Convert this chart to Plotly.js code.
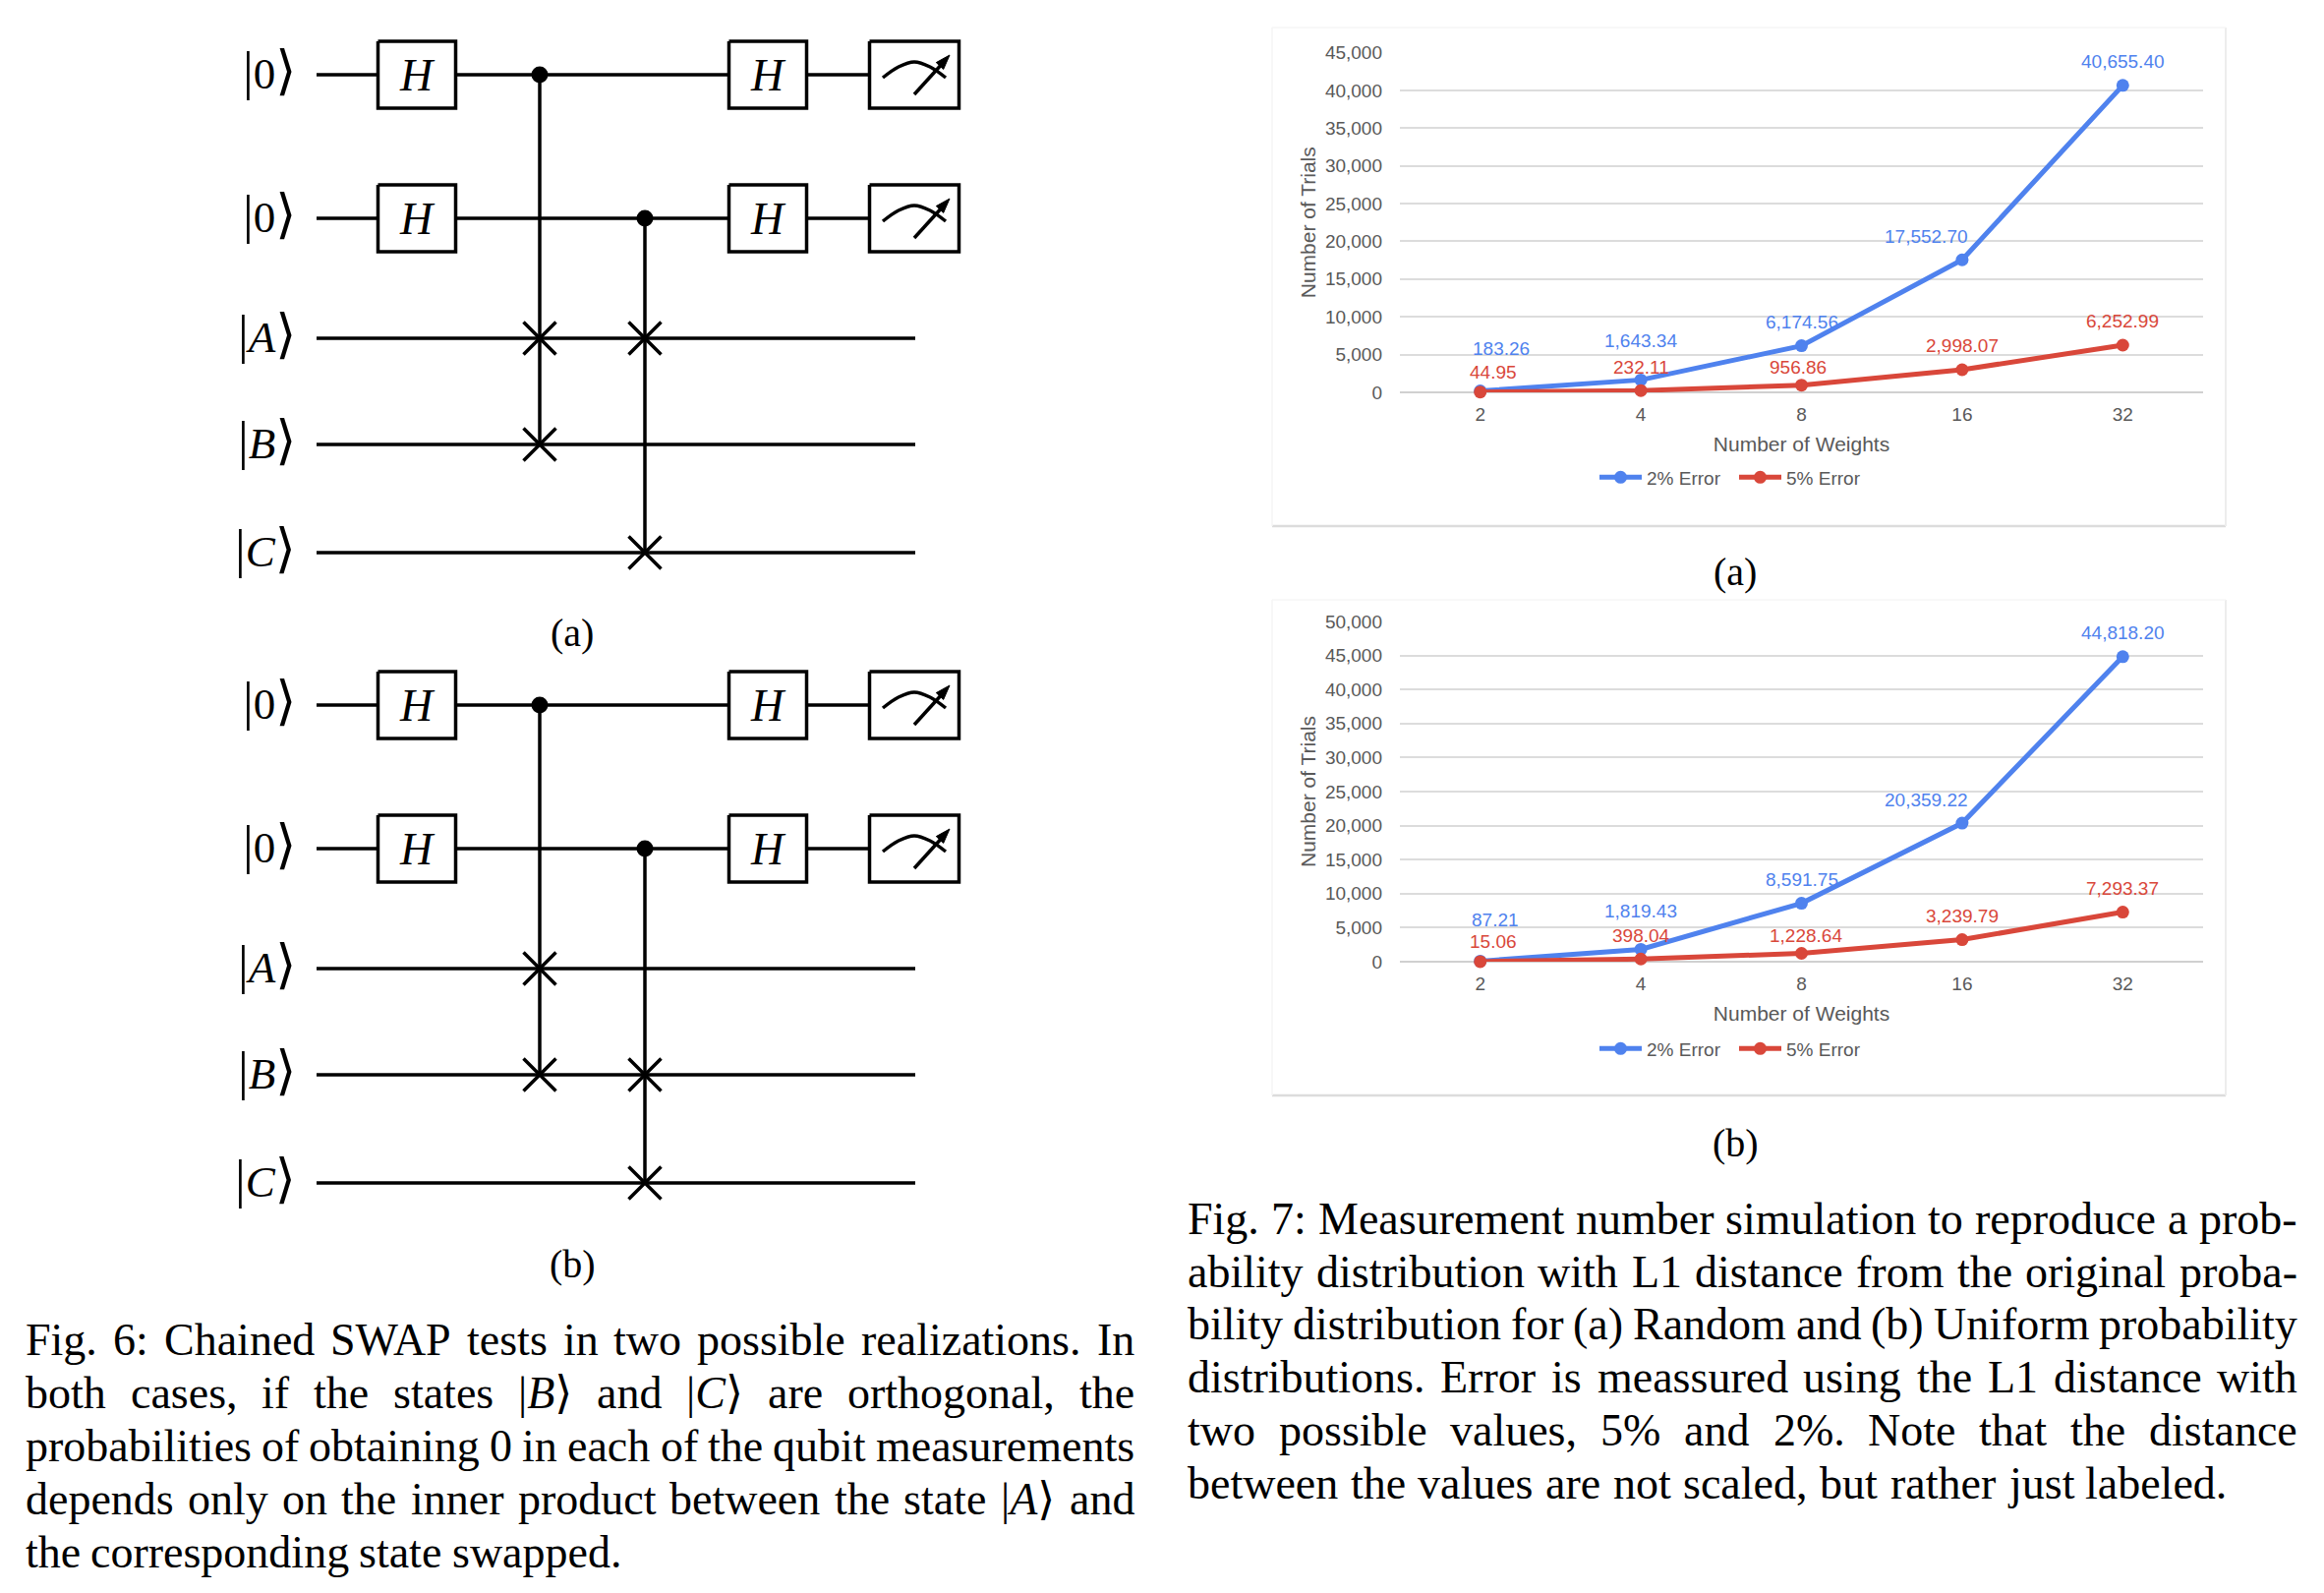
<!DOCTYPE html>
<html><head><meta charset="utf-8">
<script src="https://cdn.plot.ly/plotly-3.0.1.min.js"></script>
<style>html,body{margin:0;padding:0;background:#fff}#c{width:2364px;height:1620px}</style>
</head><body><div id="c"></div>
<script>
// ---- chart data ----
const weights = ['2','4','8','16','32'];
const seriesNames = ['2% Error','5% Error'];
const randomTwo = [183.26,1643.34,6174.56,17552.70,40655.40];
const randomFive = [44.95,232.11,956.86,2998.07,6252.99];
const uniformTwo = [87.21,1819.43,8591.75,20359.22,44818.20];
const uniformFive = [15.06,398.04,1228.64,3239.79,7293.37];
// ---- circuit data (axis units) ----
const wireNames = ['0','0','A','B','C'];
const wireRows = [76,222,344,452,562];
const wireStart = 322, wireEndMeter = 885, wireEndOpen = 931;
const gateColumns = [424,781];
const meterColumn = 930;
const swapColumns = [549,656];
const controlRows = [0,1];
const swapTargetsA = [[2,3],[2,4]];
const swapTargetsB = [[2,3],[3,4]];
// ---- captions ----
const captionSix = [
 'Fig. 6: Chained SWAP tests in two possible realizations. In',
 'both cases, if the states |B⟩ and |C⟩ are orthogonal, the',
 'probabilities of obtaining 0 in each of the qubit measurements',
 'depends only on the inner product between the state |A⟩ and',
 'the corresponding state swapped.'];
const captionSeven = [
 'Fig. 7: Measurement number simulation to reproduce a prob-',
 'ability distribution with L1 distance from the original proba-',
 'bility distribution for (a) Random and (b) Uniform probability',
 'distributions. Error is meassured using the L1 distance with',
 'two possible values, 5% and 2%. Note that the distance',
 'between the values are not scaled, but rather just labeled.'];

const W=2364,H=1620;
const px=x=>x/W, py=y=>1-y/H;
const BLUE='#4f82ee', RED='#d9473a', TXT='#595959', GRID='#dcdcdc';
const SERIF='"Liberation Serif","DejaVu Serif",serif';
const SANS='"Liberation Sans",Arial,sans-serif';
const CAP=46;
const traces=[], annotations=[], shapes=[];

// ---- line charts ----
function addChart(n,two,five,legendName,offTwo,offFive){
  const xa=n===1?'x':'x'+n, ya=n===1?'y':'y'+n;
  [[two,BLUE,0,offTwo],[five,RED,1,offFive]].forEach(([vals,col,i,off])=>{
    traces.push({type:'scatter',mode:'lines+markers',x:weights,y:vals,name:seriesNames[i],xaxis:xa,yaxis:ya,
      legend:legendName,cliponaxis:false,line:{color:col,width:5},marker:{color:col,size:13}});
    vals.forEach((v,k)=>annotations.push({xref:xa,yref:ya,x:k,y:v,showarrow:false,xanchor:'center',yanchor:'middle',
      text:v.toLocaleString('en-US',{minimumFractionDigits:2,maximumFractionDigits:2}),
      font:{family:SANS,size:19,color:col},xshift:off[k][0],yshift:off[k][1]}));
  });
}
addChart(1,randomTwo,randomFive,'legend',
  [[21,43],[0,40],[0,24],[-36,24],[0,24]],
  [[13,20],[0,24],[-4,18],[0,24],[0,24]]);
addChart(2,uniformTwo,uniformFive,'legend2',
  [[15,42],[0,39],[0,24],[-36,24],[0,24]],
  [[13,20],[0,24],[4,18],[0,24],[0,24]]);

// ---- circuits ----
function line(xs,ys,xa,ya,w){traces.push({type:'scatter',mode:'lines',x:xs,y:ys,xaxis:xa,yaxis:ya,showlegend:false,
  hoverinfo:'skip',cliponaxis:false,line:{color:'#000',width:w||3.5}});}
function addCircuit(xa,ya,targets){
  wireRows.forEach((r,i)=>{
    line([wireStart,i<2?wireEndMeter:wireEndOpen],[r,r],xa,ya);
    annotations.push({xref:xa,yref:ya,x:303,y:r,xanchor:'right',yanchor:'middle',yshift:4,showarrow:false,
      text:'<span style="font-size:54px">|</span>'+(i<2?wireNames[i]:'<i>'+wireNames[i]+'</i>')+'<span style="font-size:54px">⟩</span>',
      font:{family:SERIF,size:45,color:'#000'}});
  });
  swapColumns.forEach((c,j)=>{
    const rows=[controlRows[j],...targets[j]];
    line([c,c],[wireRows[rows[0]],wireRows[rows[rows.length-1]]],xa,ya);
    traces.push({type:'scatter',mode:'markers',x:[c],y:[wireRows[controlRows[j]]],xaxis:xa,yaxis:ya,showlegend:false,hoverinfo:'skip',
      marker:{symbol:'circle',size:17,color:'#000'}});
    traces.push({type:'scatter',mode:'markers',x:targets[j].map(()=>c),y:targets[j].map(t=>wireRows[t]),xaxis:xa,yaxis:ya,showlegend:false,hoverinfo:'skip',
      marker:{symbol:'x-thin',size:33,line:{color:'#000',width:3.5}}});
  });
  controlRows.forEach(rowIdx=>{
    const r=wireRows[rowIdx];
    gateColumns.forEach(g=>{
      traces.push({type:'scatter',mode:'lines',fill:'toself',fillcolor:'#fff',x:[g-39.5,g+39.5,g+39.5,g-39.5,g-39.5],y:[r-34,r-34,r+34,r+34,r-34],
        xaxis:xa,yaxis:ya,showlegend:false,hoverinfo:'skip',line:{color:'#000',width:3.5}});
      annotations.push({xref:xa,yref:ya,x:g,y:r,xanchor:'center',yanchor:'middle',showarrow:false,text:'<i>H</i>',font:{family:SERIF,size:46,color:'#000'}});
    });
    const m=meterColumn;
    traces.push({type:'scatter',mode:'lines',fill:'toself',fillcolor:'#fff',x:[m-45.5,m+45.5,m+45.5,m-45.5,m-45.5],y:[r-34,r-34,r+34,r+34,r-34],
      xaxis:xa,yaxis:ya,showlegend:false,hoverinfo:'skip',line:{color:'#000',width:3.5}});
    traces.push({type:'scatter',mode:'lines',x:[m-32,m-16,m,m+16,m+32],y:[r+3,r-8,r-13,r-8,r+3],xaxis:xa,yaxis:ya,showlegend:false,hoverinfo:'skip',
      line:{color:'#000',width:3.5,shape:'spline'}});
    line([m,m+30],[r+20,r-13],xa,ya,3.5);
    traces.push({type:'scatter',mode:'lines',fill:'toself',fillcolor:'#000',x:[m+36,m+29.7,m+22.3,m+36],y:[r-20,r-5.6,r-12.4,r-20],
      xaxis:xa,yaxis:ya,showlegend:false,hoverinfo:'skip',line:{color:'#000',width:1}});
  });
}
addCircuit('x3','y3',swapTargetsA);
addCircuit('x4','y4',swapTargetsB);

// ---- panels around the charts ----
[[1294,2264,28,535],[1294,2264,610,1114]].forEach(([l,r,t,b])=>{
  shapes.push({type:'line',xref:'paper',yref:'paper',x0:px(l),x1:px(r),y0:py(b),y1:py(b),line:{color:'#dcdcdc',width:2.5}});
  shapes.push({type:'line',xref:'paper',yref:'paper',x0:px(r),x1:px(r),y0:py(t),y1:py(b),line:{color:'#ededed',width:2}});
  shapes.push({type:'line',xref:'paper',yref:'paper',x0:px(l),x1:px(l),y0:py(t),y1:py(b),line:{color:'#f4f4f4',width:1.5}});
  shapes.push({type:'line',xref:'paper',yref:'paper',x0:px(l),x1:px(r),y0:py(t),y1:py(t),line:{color:'#f6f6f6',width:1.5}});
});

// ---- sub-captions ----
[['(a)',582,643],['(b)',582,1285],['(a)',1765,581],['(b)',1765,1162]].forEach(([t,x,y])=>
  annotations.push({xref:'paper',yref:'paper',x:px(x),y:py(y),xanchor:'center',yanchor:'middle',showarrow:false,text:t,font:{family:SERIF,size:40,color:'#000'}}));

// ---- justified caption blocks, word by word ----
const probe=document.createElement('span');
probe.style.cssText='position:absolute;visibility:hidden;white-space:nowrap;font:'+CAP+'px '+SERIF;
document.body.appendChild(probe);
const markup=w=>w.replace(/\|([A-Z])⟩/,'|<i>$1</i>⟩');
function measure(w){probe.innerHTML=markup(w);return probe.getBoundingClientRect().width;}
function addCaption(lines,left,right,firstY,leading,natural){
  lines.forEach((ln,i)=>{
    const words=ln.split(' '), ws=words.map(measure), sum=ws.reduce((a,b)=>a+b,0);
    const gap=natural[i]?natural[i]:(right-left-sum)/(words.length-1);
    let x=left;
    words.forEach((w,k)=>{
      annotations.push({xref:'paper',yref:'paper',x:px(x),y:py(firstY+i*leading),xanchor:'left',yanchor:'middle',showarrow:false,borderpad:0,
        text:markup(w),font:{family:SERIF,size:CAP,color:'#000'}});
      x+=ws[k]+gap;
    });
  });
}
addCaption(captionSix,25,1153,1362,54,[0,0,0,0,10]);
addCaption(captionSeven,1207,2336,1239.5,53.7,[0,0,0,0,0,12.5]);
probe.remove();

// ---- layout ----
const cat=(dom,anchor)=>({domain:dom,anchor,type:'category',range:[-0.5,4.5],showgrid:false,zeroline:false,showline:false,ticks:'',
  tickfont:{family:SANS,size:19,color:TXT},ticklabelstandoff:9,
  title:{text:'Number of Weights',font:{family:SANS,size:21,color:TXT},standoff:13}});
const val=(dom,anchor,max)=>({domain:dom,anchor,range:[0,max],dtick:5000,tickformat:',d',showline:false,ticks:'',
  gridcolor:GRID,gridwidth:2,zeroline:true,zerolinecolor:'#d0d0d0',zerolinewidth:2,
  tickfont:{family:SANS,size:19,color:TXT},ticklabelstandoff:17,
  title:{text:'Number of Trials',font:{family:SANS,size:21,color:TXT},standoff:3}});
const hid=(dom,anchor,range)=>({domain:dom,anchor,range,visible:false,fixedrange:true});
const xDom=[px(1424),px(2241)];
const leg=(y)=>({orientation:'h',x:px(1622),y:py(y),xanchor:'left',yanchor:'middle',itemwidth:43,bgcolor:'rgba(0,0,0,0)',
  font:{family:SANS,size:19,color:TXT},entrywidth:84,itemclick:false,itemdoubleclick:false});
const layout={width:W,height:H,margin:{l:0,r:0,t:0,b:0},paper_bgcolor:'#fff',plot_bgcolor:'rgba(0,0,0,0)',
  showlegend:true,hovermode:false,annotations,shapes,
  legend:leg(485.5),legend2:leg(1066.5),
  xaxis:cat(xDom,'y'),yaxis:val([py(399),py(53.5)],'x',45000),
  xaxis2:cat(xDom,'y2'),yaxis2:val([py(978),py(632)],'x2',50000),
  xaxis3:hid([px(100),px(1000)],'y3',[100,1000]),yaxis3:hid([py(620),py(20)],'x3',[620,20]),
  xaxis4:hid([px(100),px(1000)],'y4',[100,1000]),yaxis4:hid([py(1261),py(661)],'x4',[620,20])};
Plotly.newPlot('c',traces,layout,{displayModeBar:false,responsive:false});
</script></body></html>
